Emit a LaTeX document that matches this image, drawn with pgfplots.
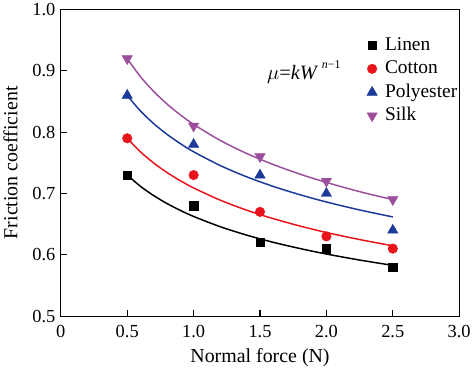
\documentclass[border=0pt]{standalone}
\usepackage{fontspec}
\setmainfont{Liberation Serif}
\usepackage{pgfplots}
\pgfplotsset{compat=1.18}
\definecolor{cRed}{HTML}{E8141C}
\definecolor{cBlue}{HTML}{1C3A9A}
\definecolor{cPurple}{HTML}{9B4F9B}
\begin{document}
\begin{tikzpicture}
\begin{axis}[
  scale only axis, width=399bp, height=307bp,
  xmin=0, xmax=3, ymin=0.5, ymax=1.0,
  xtick={0,0.5,1,1.5,2,2.5,3},
  xticklabels={0,0.5,1.0,1.5,2.0,2.5,3.0},
  ytick={0.5,0.6,0.7,0.8,0.9,1.0},
  yticklabels={0.5,0.6,0.7,0.8,0.9,1.0},
  tick align=inside, xtick pos=bottom, ytick pos=left,
  major tick length=6bp,
  axis line style={line width=1.1pt}, tick style={line width=1.1pt, black},
  /pgf/number format/assume math mode=true,
  tick label style={font=\fontsize{18.5}{20}\selectfont},
  xticklabel style={yshift=-6bp},
  yticklabel style={xshift=-2bp},
  label style={font=\fontsize{20}{22}\selectfont},
  xlabel={Normal force (N)}, ylabel={Friction coefficient},
  xlabel style={yshift=-4bp}, ylabel style={yshift=8bp},
  legend style={draw=none, fill=none, inner sep=0pt, at={(1.0,0.922)}, anchor=north east,
    font=\fontsize{19.5}{22}\selectfont, row sep=0bp,
    nodes={inner sep=1.75bp, text height=15bp, text depth=5bp},
    /tikz/every odd column/.append style={column sep=6bp}},
  legend cell align=left,
  clip=false,
]
\addplot[only marks, mark=square*, mark size=4.2bp, black] coordinates {(0.5,0.73)(1.0,0.68)(1.5,0.62)(2.0,0.61)(2.5,0.58)};
\addplot[only marks, mark=*, mark size=4.8bp, cRed] coordinates {(0.5,0.79)(1.0,0.73)(1.5,0.67)(2.0,0.63)(2.5,0.61)};
\addplot[only marks, mark=triangle*, mark size=6bp, cBlue] coordinates {(0.5,0.86)(1.0,0.78)(1.5,0.73)(2.0,0.70)(2.5,0.64)};
\addplot[only marks, mark=triangle*, mark options={rotate=180}, mark size=6bp, cPurple] coordinates {(0.5,0.92)(1.0,0.81)(1.5,0.76)(2.0,0.72)(2.5,0.69)};
\legend{Linen,Cotton,Polyester,Silk}
\addplot[black, line width=1.5pt, smooth, forget plot] coordinates {(0.5,0.730)(0.6,0.7116)(0.7,0.6964)(0.8,0.6835)(0.9,0.6724)(1.0,0.6625)(1.2,0.6458)(1.4,0.6320)(1.6,0.6203)(1.8,0.6102)(2.0,0.6012)(2.25,0.5914)(2.5,0.5827)};
\addplot[cRed, line width=1.5pt, smooth, forget plot] coordinates {(0.5,0.790)(0.6,0.7678)(0.7,0.7496)(0.8,0.7341)(0.9,0.7208)(1.0,0.709)(1.2,0.6891)(1.4,0.6727)(1.6,0.6589)(1.8,0.6469)(2.0,0.6363)(2.25,0.6248)(2.5,0.6146)};
\addplot[cBlue, line width=1.5pt, smooth, forget plot] coordinates {(0.5,0.8596)(0.6,0.8345)(0.7,0.8138)(0.8,0.7964)(0.9,0.7813)(1.0,0.768)(1.2,0.7456)(1.4,0.7271)(1.6,0.7115)(1.8,0.6980)(2.0,0.6861)(2.25,0.6731)(2.5,0.6617)};
\addplot[cPurple, line width=1.5pt, smooth, forget plot] coordinates {(0.5,0.9199)(0.6,0.8904)(0.7,0.8662)(0.8,0.8458)(0.9,0.8282)(1.0,0.8127)(1.2,0.7866)(1.4,0.7652)(1.6,0.7472)(1.8,0.7316)(2.0,0.7180)(2.25,0.7030)(2.5,0.6899)};
\node[font=\fontsize{20.5}{22}\selectfont] at (axis cs:1.83,0.898) {$\mu$=\textit{kW}\,\raisebox{1.2ex}{\fontsize{12}{13}\selectfont\textit{n}\/\textminus1}};
\end{axis}
\end{tikzpicture}
\end{document}
